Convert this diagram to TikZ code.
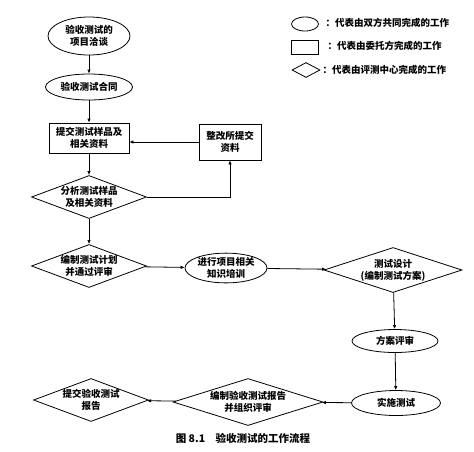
\documentclass[tikz,border=0pt]{standalone}
\usepackage{fontspec}
\setmainfont{Noto Sans CJK SC}
\usetikzlibrary{shapes.geometric, arrows.meta, positioning}

\begin{document}
\begin{tikzpicture}[x=1pt, y=-1pt, line width=0.8pt, font=\bfseries\fontsize{9.5}{12}\selectfont]
        \tikzset{
            flownode/.style={draw, align=center, inner sep=0pt},
            ellnode/.style={flownode, ellipse},
            boxnode/.style={flownode, rectangle},
            dianode/.style={flownode, diamond, aspect=2.7},
            flowarrow/.style={-{Latex[length=4pt, width=3.5pt]}}
        }
        \useasboundingbox (0,0) rectangle (474,451);

        % --- LEGEND ---
        \node[ellnode, minimum width=27pt, minimum height=14pt] (lgell) at (305,24) {};
        \node[anchor=west] (lgelltxt) at (322,23) {：代表由双方共同完成的工作};
        \node[boxnode, minimum width=27pt, minimum height=14pt] (lgbox) at (305,47) {};
        \node[anchor=west] (lgboxtxt) at (324,46) {：代表由委托方完成的工作};
        \node[dianode, minimum width=28pt, minimum height=15pt] (lgdia) at (306,70) {};
        \node[anchor=west] (lgdiatxt) at (319,70) {：代表由评测中心完成的工作};

        % --- LEFT COLUMN ---
        \node[ellnode, minimum width=82pt, minimum height=38pt] (talk) at (89,36) {验收测试的\\项目洽谈};
        \node[ellnode, minimum width=87pt, minimum height=26pt] (contract) at (89,87) {验收测试合同};
        \node[boxnode, minimum width=80pt, minimum height=30pt] (submit) at (89,138) {提交测试样品及\\相关资料};
        \node[boxnode, minimum width=62pt, minimum height=36pt] (fix) at (230,142) {整改所提交\\资料};
        \node[dianode, minimum width=115pt, minimum height=43pt] (analyse) at (89,197) {分析测试样品\\及相关资料};
        \node[dianode, minimum width=115pt, minimum height=43pt] (plan) at (89,266) {编制测试计划\\并通过评审};

        % --- MIDDLE ROW ---
        \node[ellnode, minimum width=82pt, minimum height=28pt] (train) at (226,268) {进行项目相关\\知识培训};
        \node[dianode, aspect=3.07, minimum width=138pt, minimum height=45pt] (design) at (393,270) {测试设计\\(编制测试方案)};

        % --- RIGHT COLUMN ---
        \node[ellnode, minimum width=86pt, minimum height=23pt] (review) at (395,341) {方案评审};
        \node[ellnode, minimum width=89pt, minimum height=25pt] (run) at (396,403) {实施测试};

        % --- BOTTOM ROW ---
        \node[dianode, aspect=3.2, minimum width=150pt, minimum height=47pt] (report) at (248,402) {编制验收测试报告\\并组织评审};
        \node[dianode, minimum width=115pt, minimum height=43pt] (hand) at (91,400) {提交验收测试\\报告};

        \node[font=\bfseries\fontsize{10.5}{12}\selectfont] (caption) at (243,438) {图 8.1\quad 验收测试的工作流程};

        % Arrows
        \draw[flowarrow] (talk) -- (contract);
        \draw[flowarrow] (contract) -- (submit);
        \draw[flowarrow] (submit) -- (analyse);
        \draw[flowarrow] (analyse.east) -| (fix.south);
        \draw[flowarrow] (fix.west) -- (fix.west -| submit.east);
        \draw[flowarrow] (analyse) -- (plan);
        \draw[flowarrow] (plan) -- (train);
        \draw[flowarrow] (train) -- (design);
        \draw[flowarrow] (design) -- (review);
        \draw[flowarrow] (review) -- (run);
        \draw[flowarrow] (run) -- (report);
        \draw[flowarrow] (report) -- (hand);

    \end{tikzpicture}
\end{document}
